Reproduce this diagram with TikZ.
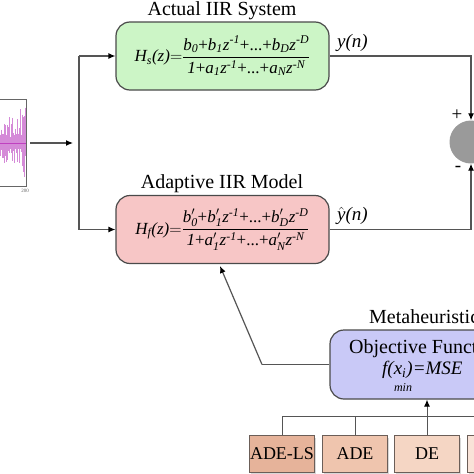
\RequirePackage{fix-cm}
\documentclass[tikz,border=0pt]{standalone}
\usepackage{amsmath}
\usepackage{fontspec}
\setmainfont{Liberation Serif}
\usetikzlibrary{arrows.meta,shadows}
\newcommand{\itx}[1]{\textit{#1}}
\newcommand{\pl}{\textup{+}}
\definecolor{greenfill}{HTML}{CCF5C6}
\definecolor{pinkfill}{HTML}{F7C6C6}
\definecolor{bluefill}{HTML}{C9C9F7}
\definecolor{sumgray}{HTML}{9A9A9A}
\definecolor{linegray}{HTML}{555555}
\definecolor{boxgray}{HTML}{4A4A4A}
\definecolor{algborder}{HTML}{6B5E58}
\definecolor{algA}{HTML}{E6B39A}
\definecolor{algB}{HTML}{EFC5AE}
\definecolor{algC}{HTML}{F5D6C4}
\definecolor{algD}{HTML}{F9E3D8}
\definecolor{sigcol}{HTML}{D58AD8}
\definecolor{sigdark}{HTML}{C040C0}
\tikzset{
  conn/.style={draw=linegray, line width=1.2pt},
  arr/.style={conn, -{Latex[length=7pt,width=6pt,color=black]}},
  sysbox/.style={draw=boxgray, line width=1.2pt, rounded corners=14pt,
    minimum width=213pt, minimum height=68pt, inner sep=0pt,
    font=\fontsize{17}{20}\selectfont},
  titletext/.style={font=\fontsize{20}{24}\selectfont, inner sep=0pt},
  lbl/.style={font=\fontsize{19}{22}\selectfont, inner sep=0pt},
  algbox/.style={draw=algborder, line width=1pt, minimum width=65pt,
    minimum height=37pt, inner sep=0pt, font=\fontsize{18}{21}\selectfont,
    drop shadow={shadow xshift=1pt, shadow yshift=-3pt, fill=black!30, opacity=0.5}},
}
\begin{document}
\begin{tikzpicture}[x=1pt,y=-1pt]
\useasboundingbox (0,0) rectangle (474,474);
\clip (0,0) rectangle (474,474);
\fill[white] (0,0) rectangle (474,474);

% input signal plot
\draw[black!60, line width=0.8pt] (-5,99) rectangle (26,186);
\pgfmathsetseed{11}
\foreach \i in {0,...,29} {
  \pgfmathsetmacro\hu{4+rnd*(10+\i)}
  \pgfmathsetmacro\hd{4+rnd*(10+\i)}
  \draw[sigcol, line width=0.7pt] (\i-4,143-\hu) -- (\i-4,143+\hd);
}
\draw[sigdark, line width=0.6pt] (-5,143) -- (26,143);
\node[font=\fontsize{5}{6}\selectfont, text=black!60, inner sep=0pt] (tick) at (25,191) {200};

% IIR boxes
\node[sysbox, fill=greenfill] (hs) at (222.5,56)
 {$\itx{H}_{\itx{s}}\itx{(z)}{=}\dfrac{\itx{b}_{\itx{0}}{\pl}\itx{b}_{\itx{1}}\itx{z}^{\itx{-1}}{\pl}\textup{...}{\pl}\itx{b}_{\itx{D}}\itx{z}^{\itx{-D}}}{\itx{1}{\pl}\itx{a}_{\itx{1}}\itx{z}^{\itx{-1}}{\pl}\textup{...}{\pl}\itx{a}_{\itx{N}}\itx{z}^{\itx{-N}}}$};
\node[titletext] (hst) at (222,11) {Actual IIR System};
\node[sysbox, fill=pinkfill] (hf) at (222.5,229.5)
 {$\itx{H}_{\itx{f}}\itx{(z)}{=}\dfrac{\itx{b}'_{\itx{0}}{\pl}\itx{b}'_{\itx{1}}\itx{z}^{\itx{-1}}{\pl}\textup{...}{\pl}\itx{b}'_{\itx{D}}\itx{z}^{\itx{-D}}}{\itx{1}{\pl}\itx{a}'_{\itx{1}}\itx{z}^{\itx{-1}}{\pl}\textup{...}{\pl}\itx{a}'_{\itx{N}}\itx{z}^{\itx{-N}}}$};
\node[titletext] (hft) at (222,184) {Adaptive IIR Model};

% summing junction
\node[circle, fill=sumgray, minimum size=43pt, inner sep=0pt] (sum) at (471,142) {};
\node[lbl] (plus) at (457,115) {+};
\node[lbl] (minus) at (458,169) {-};

% output labels
\node[lbl, anchor=west] (yl) at (337,43) {\itx{y(n)}};
\node[lbl, anchor=west] (yhl) at (337,216) {$\hat{\itx{y}}$\itx{(n)}};

% input connections
\coordinate (sig) at (30,143);
\coordinate (sigend) at (73,143);
\coordinate (jt) at (79,56);
\coordinate (jb) at (79,229.5);
\draw[arr] (sig) -- (sigend);
\draw[conn] (jt) -- (jb);
\draw[arr] (jt) -- (hs.west);
\draw[arr] (jb) -- (hf.west);

% outputs to junction
\draw[arr] (hs.east) -| (sum.north);
\draw[arr] (hf.east) -| (sum.south);

% metaheuristic block
\node[titletext, anchor=west] (mt) at (369,317) {Metaheuristic};
\node[draw=boxgray, line width=1.2pt, rounded corners=14pt, fill=bluefill,
  minimum width=230pt, minimum height=69pt, inner sep=0pt] (obj) at (445,364.5) {};
\node[titletext, anchor=west] (objt) at (349,349) {Objective Function};
\node[lbl, anchor=west] (objf) at (382,370) {\itx{f(x\textsubscript{i})=MSE}};
\node[font=\fontsize{12}{14}\selectfont, inner sep=0pt] (objmin) at (403,388) {\itx{min}};

\coordinate (bend) at (262,364.5);
\draw[conn] (obj.west) -- (bend);
\draw[arr] (bend) -- (220,266);

% algorithm boxes
\node[algbox, fill=algA] (a1) at (282,453.5) {ADE-LS};
\node[algbox, fill=algB] (a2) at (355,453.5) {ADE};
\node[algbox, fill=algC] (a3) at (427,453.5) {DE};
\node[algbox, fill=algD] (a4) at (500,453.5) {};

\coordinate (busl) at (282,416);
\coordinate (busr) at (480,416);
\draw[conn, line width=1pt] (busl) -- (busr);
\draw[conn, line width=1pt] (a1.north) -- (busl);
\draw[conn, line width=1pt] (a2.north) -- (a2.north |- busl);
\draw[arr, line width=1pt] (a3.north) -- (obj.south -| a3.north);
\end{tikzpicture}
\end{document}
